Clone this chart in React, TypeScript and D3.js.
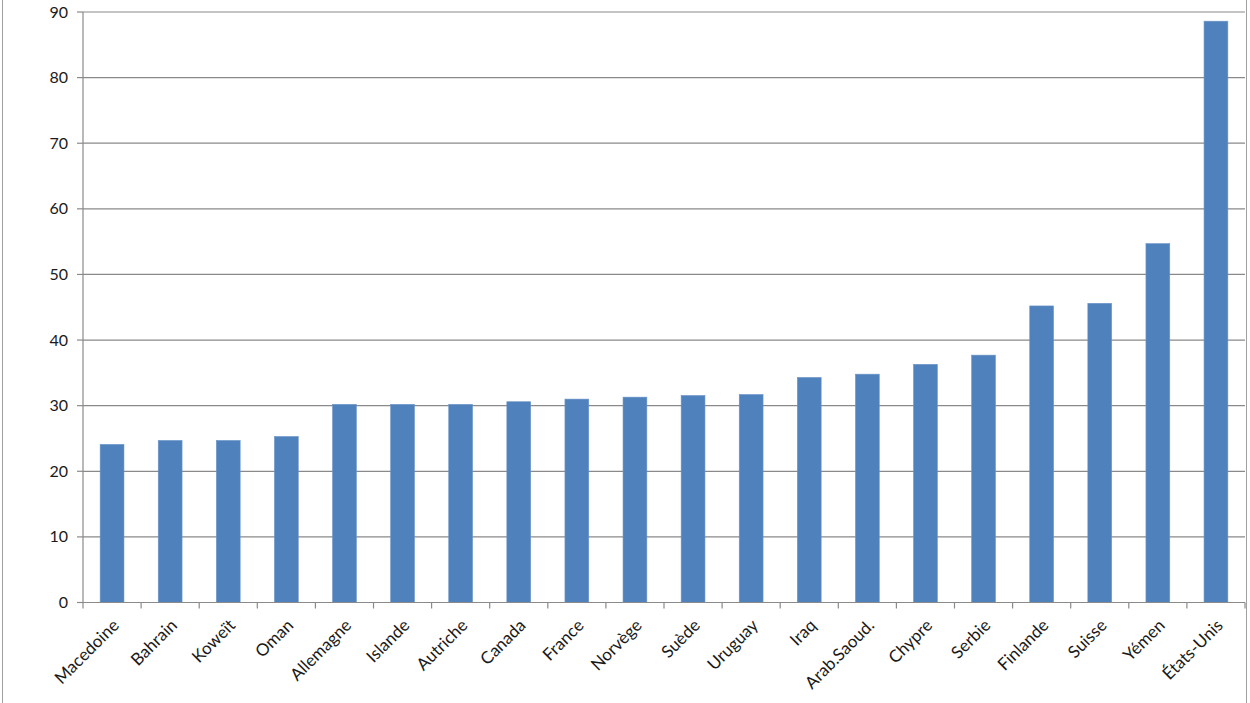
import React from "react";
import * as d3 from "d3";

const categories = [
  "Macedoine", "Bahrain", "Koweït", "Oman", "Allemagne", "Islande", "Autriche",
  "Canada", "France", "Norvège", "Suède", "Uruguay", "Iraq", "Arab.Saoud.",
  "Chypre", "Serbie", "Finlande", "Suisse", "Yémen", "États-Unis",
];
const values = [
  24.1, 24.7, 24.7, 25.3, 30.2, 30.2, 30.2, 30.6, 31.0, 31.3, 31.55, 31.7,
  34.3, 34.8, 36.3, 37.7, 45.2, 45.6, 54.7, 88.6,
];
const yTicks = [0, 10, 20, 30, 40, 50, 60, 70, 80, 90];

const W = 1250;
const H = 703;
const left = 83;
const right = 1245;
const top = 12;
const bottom = 602.5;

export default function App() {
  const x = d3.scaleBand<string>().domain(categories).range([left, right]).padding(0);
  const y = d3.scaleLinear().domain([0, 90]).range([bottom, top]);
  const bw = x.bandwidth();
  const barW = bw * 0.41;
  const font = "Lato, 'Open Sans', sans-serif";
  const grid = "#8a8a8a";

  return (
    <svg
      width={W}
      height={H}
      style={{ position: "absolute", left: 0, top: 0, background: "#fff" }}
    >
      {/* frame */}
      <line x1={2.5} x2={2.5} y1={0} y2={H} stroke="#a0a0a0" strokeWidth={1} />
      <line x1={1246.5} x2={1246.5} y1={0} y2={H} stroke="#a0a0a0" strokeWidth={1} />

      {/* gridlines */}
      {yTicks.map((t) => (
        <g key={t}>
          {t > 0 && (
            <line x1={left} x2={right} y1={y(t)} y2={y(t)} stroke={grid} strokeWidth={1.2} />
          )}
          <line x1={left - 6} x2={left} y1={y(t)} y2={y(t)} stroke={grid} strokeWidth={1.2} />
          <text
            x={left - 15}
            y={y(t)}
            dy="0.35em"
            textAnchor="end"
            fontFamily={font}
            fontSize={16}
            fill="#1a1a1a"
          >
            {t}
          </text>
        </g>
      ))}

      {/* bars */}
      {categories.map((c, i) => (
        <rect
          key={c}
          x={(x(c) as number) + (bw - barW) / 2}
          y={y(values[i])}
          width={barW}
          height={y(0) - y(values[i])}
          fill="#4F81BD"
          stroke="#6b95c8"
          strokeWidth={0.6}
        />
      ))}

      {/* axes */}
      <line x1={left} x2={left} y1={top} y2={bottom} stroke={grid} strokeWidth={1.2} />
      <line x1={left} x2={right} y1={bottom} y2={bottom} stroke={grid} strokeWidth={1.2} />
      {categories.map((c) => (
        <line
          key={"t" + c}
          x1={(x(c) as number)}
          x2={(x(c) as number)}
          y1={bottom}
          y2={bottom + 6}
          stroke={grid}
          strokeWidth={1.2}
        />
      ))}
      <line x1={right} x2={right} y1={bottom} y2={bottom + 6} stroke={grid} strokeWidth={1.2} />

      {/* x labels */}
      {categories.map((c) => {
        const cx = (x(c) as number) + bw / 2 + 8;
        const cy = bottom + 24;
        return (
          <text
            key={"l" + c}
            transform={`translate(${cx},${cy}) rotate(-45)`}
            textAnchor="end"
            fontFamily={font}
            fontSize={17}
            fill="#1a1a1a"
          >
            {c}
          </text>
        );
      })}
    </svg>
  );
}
